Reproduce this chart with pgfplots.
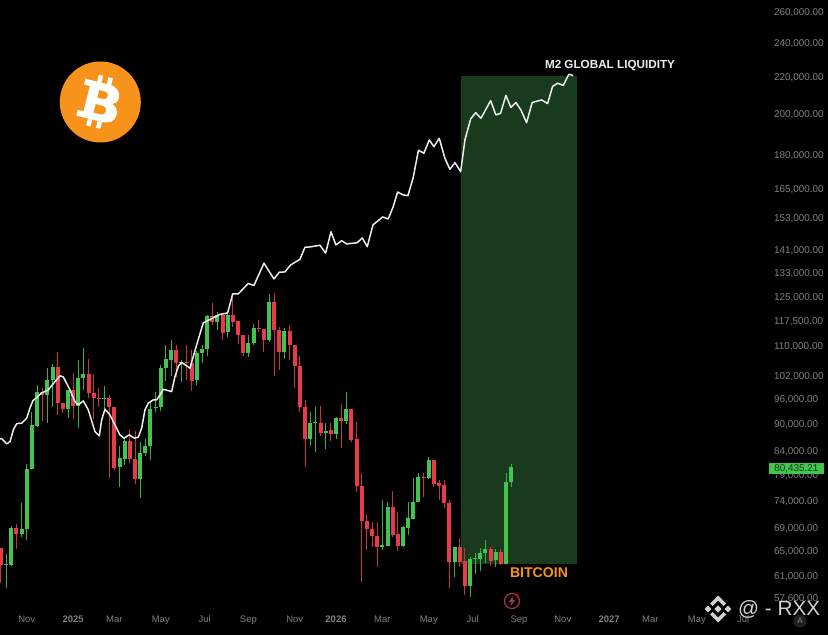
\documentclass[border=0pt]{standalone}
\usepackage{fontspec}
\setmainfont{Liberation Sans}
\usepackage{pgfplots}
\usepackage{pgfplotstable}
\pgfplotsset{compat=1.18}
\definecolor{cgreen}{HTML}{41C54E}
\definecolor{cred}{HTML}{E93A4A}
\definecolor{wgreen}{HTML}{38AE44}
\definecolor{wred}{HTML}{C8333F}
\definecolor{zone}{HTML}{1A3A1E}
\definecolor{lab}{HTML}{808080}
\definecolor{btc}{HTML}{F7931A}

\pgfplotstableread{
i o h l c
2 62590 64380 58990 62750
3 62590 69190 62420 68840
5 67780 73410 67260 68660
6 68660 81150 66740 80110
7 80110 92750 80110 89700
8 89470 99420 89240 97640
10 96900 103860 90170 100700
11 100700 104930 93950 104130
14 93460 98140 91330 98140
16 94190 106010 89010 101220
17 101220 109340 98140 102270
21 95900 99160 93220 96150
24 80520 84990 76480 82410
25 82190 86980 80940 86080
28 78070 85860 74350 83470
29 83470 86530 82830 84990
30 84990 95160 81980 93460
31 93710 97640 92750 93950
32 93950 104670 92980 103860
33 103860 110190 100440 106290
34 106010 111600 101750 108770
36 105200 106010 100190 105470
39 100700 108490 99420 107940
40 107940 110190 105200 109050
41 109050 119020 107110 118710
43 116890 119940 114510 119020
45 113930 119630 112470 119020
49 107940 113060 106840 110750
50 110750 116300 110190 115110
53 111600 125620 111030 123070
56 108220 115110 106290 114220
61 86530 92750 84990 90170
62 90170 93950 83680 90400
64 87880 90170 84330 88330
66 87650 91570 86530 91330
68 90630 97640 89940 93460
75 65550 73970 65040 65890
76 65720 73590 65720 72660
79 65720 69190 65550 69010
80 68840 73590 67610 70630
81 70440 78280 70440 73590
82 73590 79290 73590 78480
84 78280 82620 78070 81980
89 63070 65550 60680 65550
92 59290 63890 57640 63560
93 63560 64550 61150 63720
94 63560 65380 61620 64550
95 64550 66740 62910 65210
97 63390 65210 62260 64710
99 62750 79290 62750 77470
100 77470 81150 76480 80435
}\greencandles

\pgfplotstableread{
i o h l c
1 65380 65380 59750 62590
4 68840 69550 65210 67780
9 97640 98650 90630 96900
12 104130 108220 92040 94920
13 94920 94920 92510 93460
15 98140 102530 91100 94190
18 102270 106290 96150 97390
19 97390 102270 91100 96150
20 96150 98650 93950 95900
22 96150 96900 78280 93950
23 93950 93950 79900 80320
26 86080 88550 81360 82190
27 82190 88330 77080 78070
35 108770 110190 101490 105200
37 105470 110190 100700 105200
38 105200 108770 97890 100440
42 118710 122760 116000 116890
44 119020 119630 111600 113640
46 119020 124340 115400 116890
47 117190 117190 110470 113060
48 113060 113060 107110 107940
51 115110 117490 113930 114810
52 114810 114810 108220 111600
54 123070 125940 101750 114510
55 114510 115400 103320 108220
57 114220 116000 106010 110190
58 110190 110190 98650 104400
59 104400 107110 92750 93950
60 93950 95650 80520 86530
63 90170 94190 87200 87880
65 88550 90170 86080 87650
67 91330 94680 84550 90630
69 93460 93460 85860 86300
70 86530 90400 75510 76680
71 76680 79290 59900 70080
72 70080 71360 65040 68660
73 68660 69900 65550 67440
74 67440 69900 62260 65550
77 72660 75700 67260 67610
78 67780 71720 64880 65720
83 78480 79290 74550 78280
85 81980 81980 76480 77080
86 77280 77870 73970 76680
87 76880 77870 72470 73410
88 73410 73970 58990 63070
90 65550 67090 62260 63070
91 63230 65380 57940 59290
96 65210 65550 62420 63230
98 64710 65210 62590 62750
}\redcandles

\pgfplotstableread{
x y
0.81 86530
1.14 86600
2.11 85430
2.75 85930
3.39 88550
4.05 90000
5.02 90100
5.99 91260
6.63 93710
7.21 95480
8.9 97390
10.18 98140
11.48 100260
12.45 101750
13.09 101490
14.39 98140
15.36 95240
16 94430
16.97 95410
17.94 93220
19.23 88170
20.07 87200
20.53 90860
21.17 93390
22.14 92040
23.11 89700
24.08 87430
24.86 86690
25.89 87430
26.86 86690
27.63 86910
28.29 88940
28.93 93220
29.57 94850
30.54 95650
31.2 95650
31.84 96900
32.48 98310
34.11 97720
34.75 101570
35.45 104400
36.05 105340
37.66 103780
38.96 110190
40.24 116600
41.21 117340
43.48 119170
44.98 119630
45.95 125620
47.04 125620
48.97 129040
50.08 128390
52.02 135940
53.96 130540
54.99 132820
56.09 132920
57.2 135330
59 137300
59.97 141610
60.94 141750
62.88 142340
63.99 139480
65.02 147380
65.98 142470
67.09 144050
68.06 142840
70.12 143300
71.09 145050
72.06 141830
73.16 149980
75.04 153100
76.13 152300
77.1 157210
77.95 163260
79.04 162010
79.95 161730
80.98 169460
81.99 181730
83.05 180400
84.09 186610
85 183440
86.02 187440
87.13 178030
88.1 173060
89.07 176050
90.18 172000
91.01 186610
92.12 196970
93.09 200190
94.12 197330
96 206470
97.02 199020
97.93 199900
98.96 209280
99.93 202850
100.9 205450
101.87 201580
102.97 195120
104.06 205450
105.89 206830
107.05 204910
108.02 214180
109 215940
110.08 214680
111.19 220970
112.02 220210
}\mtwo

\begin{document}
\begin{tikzpicture}[x=1pt,y=1pt]
\useasboundingbox (0,0) rectangle (828,635);
\fill[black] (0,0) rectangle (828,635);
\begin{axis}[
  at={(0pt,25pt)}, anchor=south west,
  scale only axis, width=770pt, height=610pt,
  ymode=log, log basis y=10,
  xmin=0.806, xmax=150.2, ymin=55744, ymax=267456,
  axis line style={draw=none}, tick style={draw=none},
  yticklabel pos=right,
  ytick={57600,61000,65000,69000,74000,79000,84000,90000,96000,102000,110000,117500,125000,133000,141000,153000,165000,180000,200000,220000,240000,260000},
  yticklabels={{57,600.00},{61,000.00},{65,000.00},{69,000.00},{74,000.00},{79,000.00},{84,000.00},{90,000.00},{96,000.00},{102,000.00},{110,000.00},{117,500.00},{125,000.00},{133,000.00},{141,000.00},{153,000.00},{165,000.00},{180,000.00},{200,000.00},{220,000.00},{240,000.00},{260,000.00}},
  yticklabel style={anchor=west, xshift=3pt, yshift=-1.5pt, text=lab, font=\fontsize{9.9}{11}\selectfont, inner sep=1pt},
  xtick={6,15,23,32,40.5,49,58,66,75,84,92.5,101.5,110,119,127,136,145},
  xticklabels={Nov,\textbf{2025},Mar,May,Jul,Sep,Nov,\textbf{2026},Mar,May,Jul,Sep,Nov,\textbf{2027},Mar,May,Jul},
  xticklabel style={text=lab, font=\fontsize{9.5}{11}\selectfont, yshift=-4pt, inner sep=1pt, text height=7pt, text depth=2pt},
  clip=true,
]
% highlighted zone
\addplot[fill=zone, draw=none, forget plot] coordinates {(90.29,62660) (112.81,62660) (112.81,220030) (90.29,220030)} --cycle;
% wicks
\addplot[draw=none, no markers, forget plot, error bars/.cd, y dir=both, y explicit, error mark=none,
  error bar style={draw=wgreen, line width=1pt}]
  table[x=i, y=c, y error plus expr=\thisrow{h}-\thisrow{c}, y error minus expr=\thisrow{c}-\thisrow{l}] {\greencandles};
\addplot[draw=none, no markers, forget plot, error bars/.cd, y dir=both, y explicit, error mark=none,
  error bar style={draw=wred, line width=1pt}]
  table[x=i, y=c, y error plus expr=\thisrow{h}-\thisrow{c}, y error minus expr=\thisrow{c}-\thisrow{l}] {\redcandles};
% bodies
\addplot[draw=none, no markers, forget plot, error bars/.cd, y dir=plus, y explicit, error mark=none,
  error bar style={draw=cgreen, line width=4pt}]
  table[x=i, y=o, y error plus expr=\thisrow{c}-\thisrow{o}] {\greencandles};
\addplot[draw=none, no markers, forget plot, error bars/.cd, y dir=plus, y explicit, error mark=none,
  error bar style={draw=cred, line width=4pt}]
  table[x=i, y=c, y error plus expr=\thisrow{o}-\thisrow{c}] {\redcandles};
% M2 line
\addplot[white!93!black, line width=1.5pt, line join=round, no marks, forget plot] table[x=x,y=y] {\mtwo};
\end{axis}

% labels (y measured from the top of the image)
\node[anchor=base, text=btc, font=\fontsize{14.1}{16}\selectfont\bfseries, inner sep=0] at (539,635-578) {BITCOIN};
\node[anchor=base, text=white!93!black, font=\fontsize{11.7}{14}\selectfont\bfseries, inner sep=0] at (610,635-68.5) {M2 GLOBAL LIQUIDITY};
% price tag
\fill[cgreen] (769,635-462.7) rectangle (823.7,635-474.3);
\node[text=black!70!cgreen, font=\fontsize{9.9}{11}\selectfont, inner sep=0] at (796.4,635-468.5) {80,435.21};
% bitcoin logo
\fill[btc] (100.3,635-102) circle (40.5);
\begin{scope}[shift={(100.3,635-102)}, rotate=-14]
  \fill[white, even odd rule]
    (-20,19) -- (5,19) .. controls (13,19) and (17,14) .. (17,8) .. controls (17,4) and (15,2) .. (12,1)
    .. controls (16,0) and (19,-4) .. (19,-9) .. controls (19,-15) and (14,-19) .. (6,-19)
    -- (-20,-19) -- (-20,-13) -- (-14,-13) -- (-14,13) -- (-20,13) -- cycle
    (-4,11.5) -- (2.5,11.5) .. controls (7,11.5) and (7,3.5) .. (2.5,3.5) -- (-4,3.5) -- cycle
    (-4,-3) -- (4,-3) .. controls (9,-3) and (9,-12) .. (4,-12) -- (-4,-12) -- cycle;
  \fill[white] (-8,19) rectangle (-3.5,26);
  \fill[white] (2,19) rectangle (6.5,26);
  \fill[white] (-8,-19) rectangle (-3.5,-26);
  \fill[white] (2,-19) rectangle (6.5,-26);
\end{scope}
% lightning icon
\draw[color=purple!60!gray, line width=1.2pt] (512,635-601) circle (7.5);
\fill[color=purple!60!gray] (513.5,635-596) -- (508.5,635-602) -- (511.5,635-602) -- (510.5,635-606) -- (515.5,635-600) -- (512.5,635-600) -- cycle;
\fill[red!80!black] (517,635-595.5) circle (1.8);
% bottom right icon
\fill[white!12!black] (800,635-621) circle (6.5);
\node[text=lab, font=\fontsize{8}{9}\selectfont, inner sep=0] at (800,635-621) {A};
% watermark
\begin{scope}[shift={(718,635-609)}, color=white!82!black]
  \fill (0,3.6) -- (3.6,0) -- (0,-3.6) -- (-3.6,0) -- cycle;
  \fill (-10,3.4) -- (-6.6,0) -- (-10,-3.4) -- (-13.4,0) -- cycle;
  \fill (10,3.4) -- (13.4,0) -- (10,-3.4) -- (6.6,0) -- cycle;
  \fill (0,13.5) -- (-8,5.5) -- (-5.5,3) -- (0,8.5) -- (5.5,3) -- (8,5.5) -- cycle;
  \fill (0,-13.5) -- (-8,-5.5) -- (-5.5,-3) -- (0,-8.5) -- (5.5,-3) -- (8,-5.5) -- cycle;
\end{scope}
\node[anchor=base west, text=white!82!black, font=\fontsize{20.7}{24}\selectfont, inner sep=0] at (738,635-616) {@ - RXX};
\end{tikzpicture}
\end{document}
